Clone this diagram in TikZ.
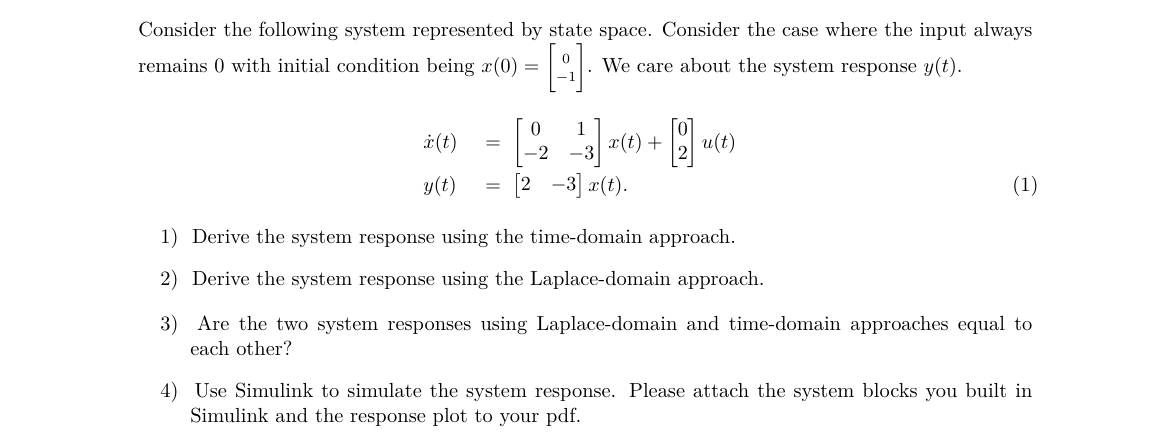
\documentclass[tikz,border=0pt]{standalone}
\usepackage{amsmath,amssymb}
\begin{document}
\begin{tikzpicture}[x=0.5pt,y=-0.5pt,tx/.style={anchor=base west,inner sep=0pt,font=\fontsize{10.2}{12}\selectfont}]
\useasboundingbox (0,0) rectangle (1170,444);
\node[tx] (l1) at (138,37) {\makebox[447pt][s]{Consider the following system represented by state space. Consider the case where the input always}};
\node[tx] (l2) at (138,73) {remains 0 with initial condition being $x(0)=\begin{bmatrix}\scriptstyle 0\\[-3pt] \scriptstyle -1\end{bmatrix}$. We care about the system response $y(t)$.};
\node[tx] (e1a) at (423,148) {$\dot x(t)$};
\node[tx] (e1b) at (485,148) {$=$};
\node[tx] (e1c) at (512,148) {$\begin{bmatrix}0&1\\-2&-3\end{bmatrix}x(t)+\begin{bmatrix}0\\2\end{bmatrix}u(t)$};
\node[tx] (e2a) at (423,191) {$y(t)$};
\node[tx] (e2b) at (485,191) {$=$};
\node[tx] (e2c) at (512,191) {$\begin{bmatrix}2&-3\end{bmatrix}x(t).$};
\node[tx] (eq) at (1012,191) {(1)};
\node[tx] (n1) at (160,243) {1)\ \ Derive the system response using the time-domain approach.};
\node[tx] (n2) at (160,285) {2)\ \ Derive the system response using the Laplace-domain approach.};
\node[tx] (n3) at (160,330) {\makebox[436pt][s]{3)\ \ Are the two system responses using Laplace-domain and time-domain approaches equal to}};
\node[tx] (n3b) at (190,355) {each other?};
\node[tx] (n4) at (160,397) {\makebox[436pt][s]{4)\ \ Use Simulink to simulate the system response. Please attach the system blocks you built in}};
\node[tx] (n4b) at (190,422) {Simulink and the response plot to your pdf.};
\end{tikzpicture}
\end{document}
